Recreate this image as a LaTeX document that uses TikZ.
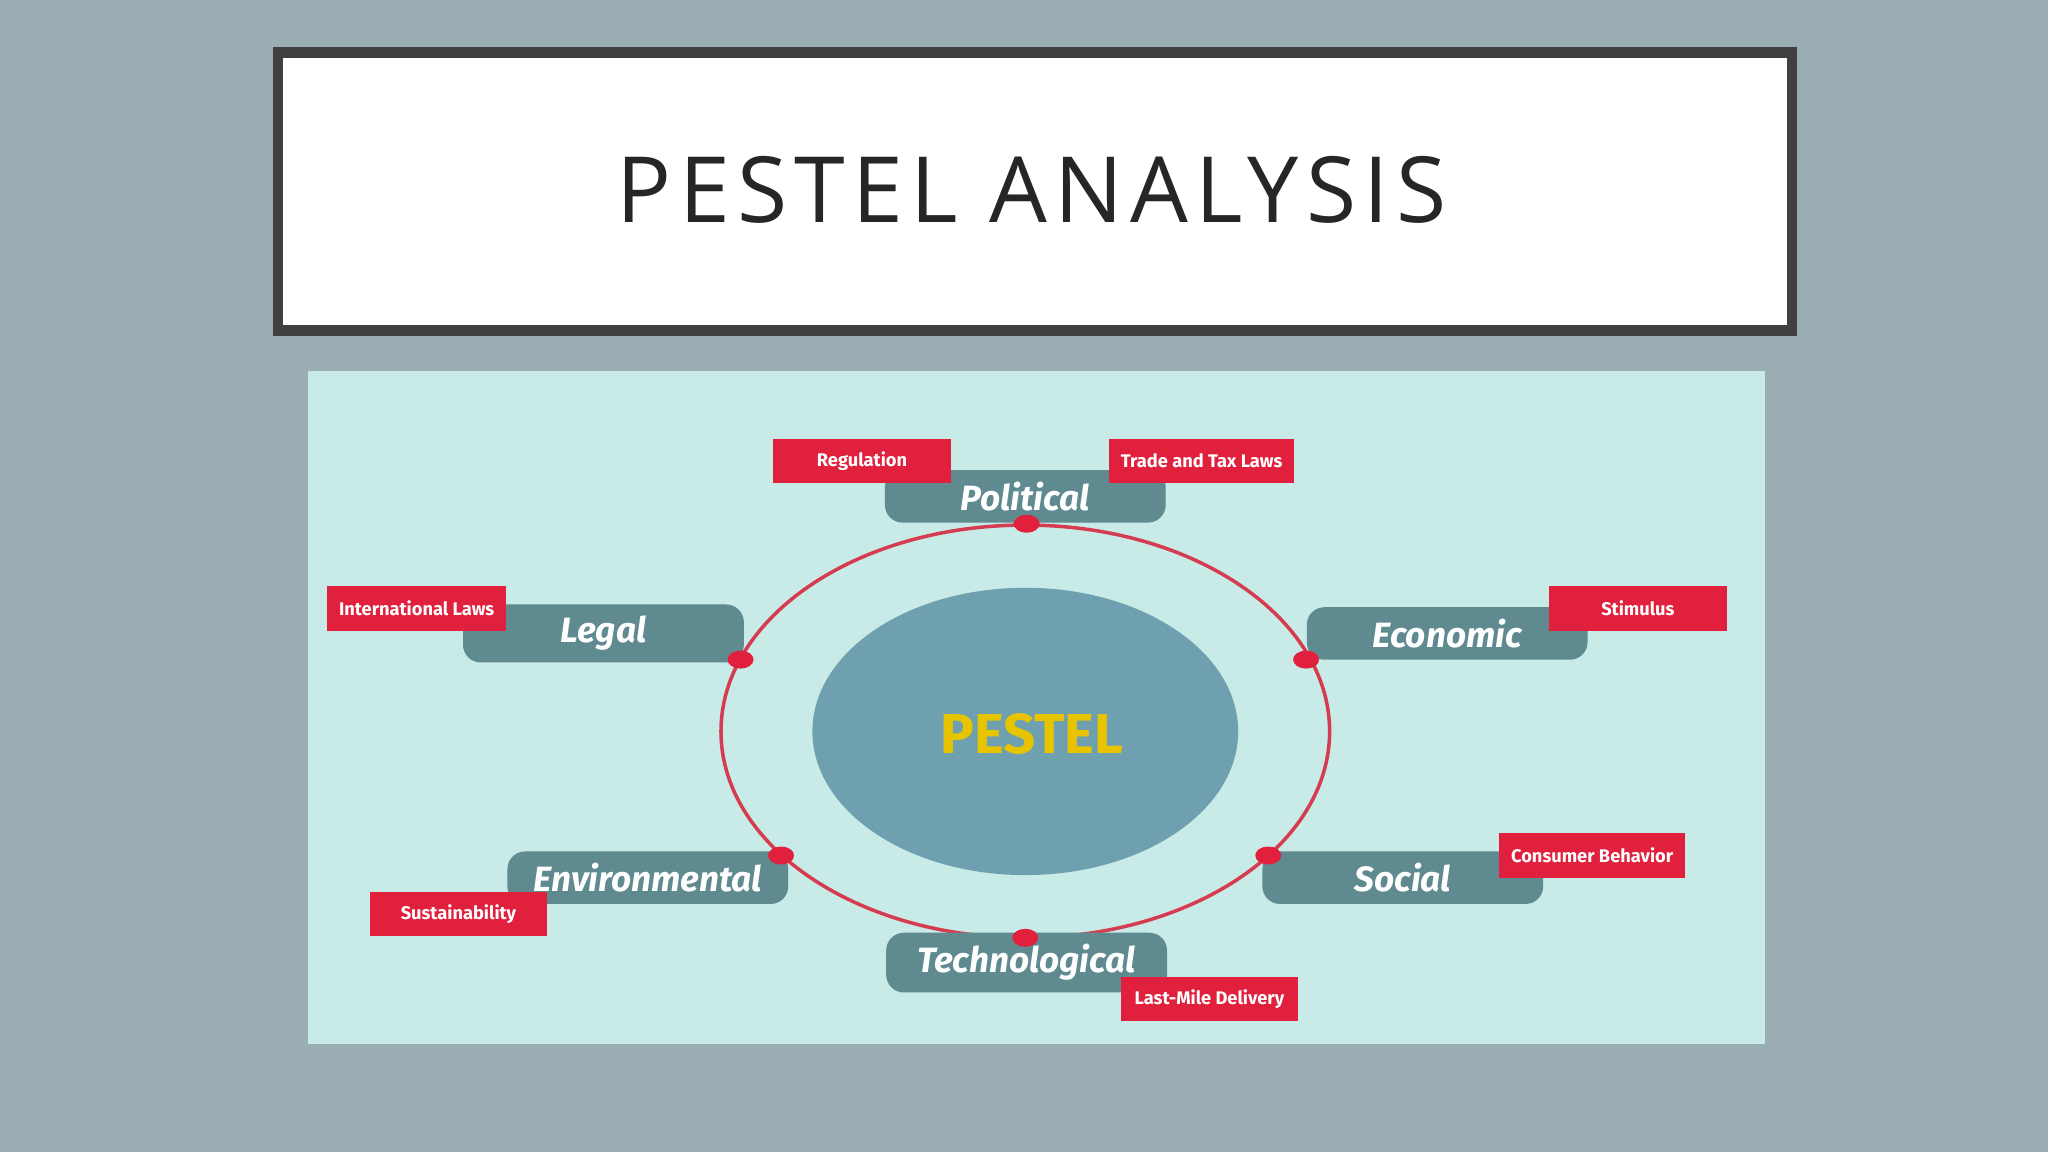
\documentclass[tikz,border=0pt]{standalone}
\usepackage{fontspec}
\usetikzlibrary{shapes.geometric}
\setmainfont{Fira Sans}
\newfontfamily\titlefont[LetterSpace=8]{Open Sans}
\definecolor{bgc}{HTML}{9AAEB4}
\definecolor{panel}{HTML}{C8EBE8}
\definecolor{core}{HTML}{6FA0B0}
\definecolor{catc}{HTML}{5F8A90}
\definecolor{redl}{HTML}{E0203C}
\definecolor{ring}{HTML}{D63C50}
\definecolor{pyel}{HTML}{E8C400}
\begin{document}
\begin{tikzpicture}[x=0.013061cm,y=-0.013061cm,
 cat/.style={fill=catc,rounded corners=5pt,text=white,font=\fontsize{10}{12}\selectfont\bfseries\itshape},
 tag/.style={fill=redl,text=white,font=\fontsize{5.2}{6}\selectfont\bfseries},
 dot/.style={fill=redl,ellipse,minimum width=0.26cm,minimum height=0.18cm,inner sep=0}]
\useasboundingbox (0,0) rectangle (1568,882);
\fill[bgc] (0,0) rectangle (1568,882);
\node[draw=black!75,line width=3pt,fill=white,minimum width=1159*0.013061cm,minimum height=213*0.013061cm] (title) at (792.5,146.5) {};
\node[font=\titlefont\fontsize{26}{30}\selectfont,text=black!85] (tt) at (790,145) {PESTEL ANALYSIS};
\fill[panel] (236,284) rectangle (1351,799);
\draw[ring,line width=1pt] (785,560) ellipse [x radius=233, y radius=158];
\fill[core] (785,560) ellipse [x radius=163, y radius=110];
\node[text=pyel,font=\fontsize{16}{18}\selectfont\bfseries] (pe) at (790,562) {PESTEL};
\foreach \n/\x/\y/\t in {pol/785/380/Political,leg/462/485/Legal,eco/1108/485/Economic,env/496/672/Environmental,soc/1074/672/Social,tec/786/737/Technological}
 \node[cat,minimum width=215*0.013061cm,minimum height=40*0.013061cm] (\n) at (\x,\y) {\t};
\foreach \n/\x/\y in {d1/786/401,d2/567/505,d3/1000/505,d4/598/655,d5/971/655,d6/785/718}
 \node[dot] (\n) at (\x,\y) {};
\foreach \n/\x/\y/\t in {r1/660/353/Regulation,r2/920/353/Trade and Tax Laws,r3/319/466/International Laws,r4/1254/466/Stimulus,r5/1219/655/Consumer Behavior,r6/351/700/Sustainability,r7/926/765/Last-Mile Delivery}
 \node[tag,minimum width=136*0.013061cm,minimum height=34*0.013061cm] (\n) at (\x,\y) {\t};
\end{tikzpicture}
\end{document}
